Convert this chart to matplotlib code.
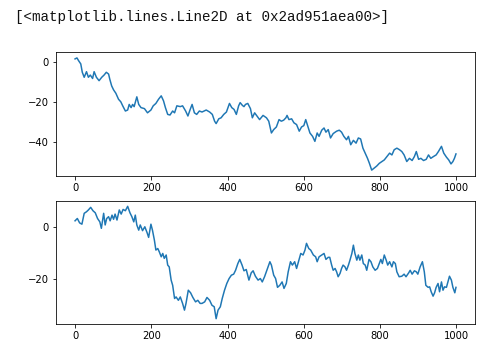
import matplotlib
matplotlib.use('Agg')
import matplotlib.pyplot as plt

# Schritte und Werte der ersten Kurve (oben)
walk1_steps = [0, 5, 9, 15, 19, 24, 30, 35, 40, 46, 50, 56, 63, 70, 76, 82, 88, 91, 96, 101,
               107, 114, 120, 125, 132, 138, 142, 147, 151, 155, 162, 167, 173, 182, 190, 199,
               205, 212, 219, 226, 232, 237, 243, 249, 256, 261, 267, 276, 282, 290, 296, 302,
               307, 313, 319, 326, 333, 344, 353, 360, 366, 370, 377, 383, 390, 397, 401, 405,
               411, 417, 423, 429, 433, 439, 443, 447, 453, 460, 465, 471, 477, 484, 493, 502,
               508, 515, 521, 528, 535, 541, 547, 553, 556, 561, 568, 574, 581, 588, 594, 600,
               605, 609, 616, 623, 629, 635, 640, 647, 653, 658, 664, 670, 677, 686, 693, 699,
               705, 712, 717, 723, 730, 737, 743, 749, 755, 761, 767, 772, 778, 784, 791, 798,
               805, 811, 818, 825, 831, 837, 844, 851, 857, 863, 870, 877, 884, 890, 895, 901,
               907, 914, 921, 927, 933, 940, 947, 953, 961, 967, 974, 980, 986, 991, 995, 999]
walk1_values = [1.5, 2.0, 0.7, -1, -5.2, -7.7, -4.9, -7.7, -6.6, -8.3, -4.9, -7.7, -9.4, -7.7,
                -6.6, -5.2, -6.1, -8.6, -12, -14, -15.7, -18.7, -20, -22, -24.6, -24.1, -21.3,
                -22.9, -21.3, -22.4, -17.5, -21.3, -22.9, -23.4, -25.5, -24.1, -22, -20.8, -18.7,
                -17, -19.5, -22.9, -26.3, -26.6, -24.6, -25.5, -22, -22.4, -22, -24.6, -27.1,
                -23.8, -21.3, -25.5, -26.3, -24.6, -25.1, -24.1, -25.1, -26.3, -29.7, -30.9,
                -28.5, -28, -26.3, -25.1, -22.9, -20.8, -22.9, -23.8, -26.3, -22, -20.4, -21.8,
                -22.4, -21.3, -20.8, -23.4, -28, -25.5, -27.1, -28.9, -26.8, -28, -29.7, -35.6,
                -33.9, -32.6, -28.9, -29.7, -29.2, -28, -26.8, -28.9, -28.5, -30.5, -31.4, -34.7,
                -32.6, -31.9, -28.9, -31.4, -35.6, -37.3, -39.8, -35.6, -37.3, -34.2, -33.1,
                -35.2, -33.9, -38.1, -35.9, -34.7, -34.2, -35.2, -37.3, -39, -37.3, -41.5, -39.3,
                -40.7, -38.1, -38.6, -43.2, -45.7, -48.3, -50.8, -54.2, -53.3, -52.2, -50.8,
                -49.9, -49.1, -47.4, -45.7, -46.6, -44, -43.2, -44, -44.9, -46.6, -49.9, -48.3,
                -49.4, -47.4, -44.9, -48.8, -48.3, -49.4, -48.8, -46.6, -48.3, -47.4, -46.6,
                -44.9, -42.3, -45.7, -47.7, -49.1, -51.1, -49.9, -48.3, -46.1]

# zweite Kurve (unten)
walk2_steps = [0, 6, 12, 18, 24, 30, 35, 41, 47, 53, 59, 65, 69, 75, 79, 83, 88, 92, 97, 101,
               105, 110, 116, 121, 126, 132, 138, 144, 149, 154, 158, 162, 167, 171, 177, 183,
               189, 193, 199, 203, 208, 212, 217, 221, 226, 230, 234, 239, 243, 247, 252, 256,
               261, 265, 271, 276, 282, 287, 291, 297, 303, 309, 316, 322, 328, 333, 340, 346,
               353, 359, 365, 370, 375, 381, 386, 392, 398, 404, 410, 416, 421, 427, 432, 438,
               443, 449, 456, 462, 467, 473, 480, 486, 491, 497, 503, 511, 515, 521, 526, 531,
               537, 543, 548, 554, 559, 565, 570, 576, 581, 587, 592, 598, 603, 607, 613, 618,
               625, 631, 635, 640, 647, 653, 658, 664, 668, 673, 677, 682, 686, 690, 695, 699,
               703, 708, 712, 717, 721, 726, 730, 734, 739, 743, 747, 752, 756, 761, 765, 771,
               776, 781, 787, 793, 798, 802, 806, 811, 816, 820, 825, 831, 835, 840, 844, 850,
               857, 863, 868, 875, 879, 884, 890, 895, 899, 905, 911, 916, 920, 926, 930, 934,
               939, 943, 947, 952, 956, 961, 965, 969, 974, 978, 982, 987, 991, 996, 999]
walk2_values = [2.3, 3.2, 1.5, 1.0, 5.2, 5.8, 6.5, 7.5, 6.2, 5.4, 3.2, 1.9, -0.6, 5.2, 0.7, 3.2,
                3.9, 2.3, 4.5, 2.9, 4.9, 2.6, 6.5, 4.9, 6.7, 6.2, 7.9, 5.4, 3.9, 1.9, 4.5, 0.7,
                -1.3, 0.7, -1.5, 0, -2.3, -4.1, 1.0, -1.3, -5.1, -9, -8.4, -9.7, -11.6, -10.3,
                -12.2, -10.9, -14.8, -15.5, -20.6, -22.6, -27.7, -27.1, -28.4, -27.1, -29.6,
                -32.2, -29.6, -24.5, -25.5, -27.3, -29, -28.4, -29.6, -29.6, -29, -27.3, -28.4,
                -30.3, -30.9, -35.5, -32.2, -30.9, -27.7, -24.5, -21.9, -20, -18.7, -18.3, -16.8,
                -14.2, -12.6, -14.8, -17, -16.5, -20.6, -17.8, -17, -19.1, -20.6, -20, -21.3,
                -19.3, -16.8, -13.5, -14.8, -18.7, -20, -23.4, -22.6, -21.3, -23.8, -21.9, -17.4,
                -13.5, -14.8, -13.5, -16.1, -12.9, -10.3, -10.9, -9, -6.4, -8.4, -9, -10.9,
                -11.6, -13.5, -11.6, -10.9, -10.3, -12.6, -11.8, -11.8, -14.8, -16.8, -16.1,
                -17.4, -19.3, -18, -16.1, -14.8, -15.5, -16.8, -14.8, -12.9, -10.3, -7.1, -10.3,
                -12.9, -10.9, -12.9, -10.9, -14.2, -14.8, -16.8, -12.6, -13.5, -15.5, -16.8,
                -16.1, -14.2, -12.6, -14.2, -10.9, -12.9, -14.8, -13.5, -15.5, -13.5, -14.2,
                -17.4, -19.3, -19.1, -18.3, -19.3, -17.8, -16.8, -18.3, -17, -17.4, -18.3, -15.5,
                -13.5, -17.4, -22.6, -23.4, -23.2, -25.1, -26.8, -25.5, -23.4, -21.9, -25.1,
                -21.3, -24.5, -23.2, -23.4, -21.3, -19.1, -20.6, -23.4, -25.5, -23.4]

fig = plt.figure(figsize=(493 / 72, 357 / 72), dpi=72)

# Ausgabezeile aus dem Notebook
fig.text(0.030, 0.952, '[<matplotlib.lines.Line2D at 0x2ad951aea00>]',
         family='Liberation Mono', fontsize=14.3, va='center', ha='left', color='#111111')

ax1 = fig.add_axes([0.1136, 0.5078, 0.8499, 0.3457])
ax1.plot(walk1_steps, walk1_values)
ax1.set_yticks([-40, -20, 0])

ax2 = fig.add_axes([0.1136, 0.0916, 0.8499, 0.3462])
ax2.plot(walk2_steps, walk2_values)
ax2.set_yticks([-20, 0])

fig.savefig('out.png', dpi=72)
